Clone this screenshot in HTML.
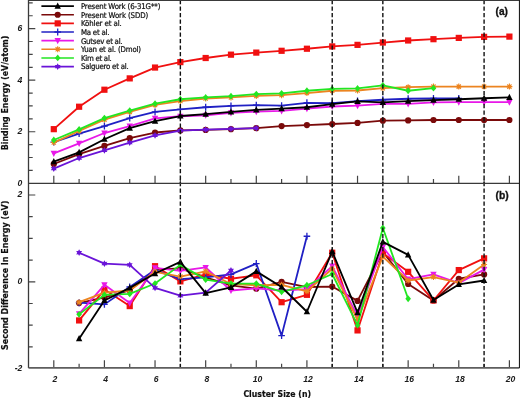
<!DOCTYPE html>
<html><head><meta charset="utf-8"><title>Binding energy plot</title>
<style>
html,body{margin:0;padding:0;background:#fff;}
body{width:520px;height:399px;overflow:hidden;}
svg{display:block;font-family:"DejaVu Sans","Liberation Sans",sans-serif;}
.tl{font-size:8.6px;font-style:italic;font-weight:bold;fill:#1a1a1a;font-family:"Liberation Sans",sans-serif;}
.pl{font-size:11.5px;font-weight:bold;fill:#111;stroke:#111;stroke-width:0.35px;font-family:"Liberation Sans",sans-serif;}
.lg{font-family:"DejaVu Sans Condensed","DejaVu Sans",sans-serif;font-stretch:condensed;font-size:7.8px;fill:#111;stroke:#111;stroke-width:0.22px;}
.at{font-size:9.3px;font-weight:bold;fill:#111;stroke:#111;stroke-width:0.2px;}
</style></head><body>
<svg width="520" height="399" viewBox="0 0 520 399">
<rect width="520" height="399" fill="#fff"/>
<path d="M28.5 170.41h4.2M28.5 157.52h4.2M28.5 144.63h4.2M28.5 131.74h6.8M28.5 118.85h4.2M28.5 105.96h4.2M28.5 93.07h4.2M28.5 80.18h6.8M28.5 67.29h4.2M28.5 54.4h4.2M28.5 41.51h4.2M28.5 28.62h6.8M28.5 15.73h4.2M28.5 2.84h4.2M28.5 346.9h4.2M28.5 325.2h4.2M28.5 303.5h4.2M28.5 281.8h6.8M28.5 260.1h4.2M28.5 238.4h4.2M28.5 216.7h4.2M28.5 195h6.8M53.8 183.3v-7.6M53.8 367.9v-7.6M79.11 183.3v-4.2M79.11 367.9v-4.2M104.42 183.3v-7.6M104.42 367.9v-7.6M129.73 183.3v-4.2M129.73 367.9v-4.2M155.04 183.3v-7.6M155.04 367.9v-7.6M180.36 183.3v-4.2M180.36 367.9v-4.2M205.67 183.3v-7.6M205.67 367.9v-7.6M230.98 183.3v-4.2M230.98 367.9v-4.2M256.29 183.3v-7.6M256.29 367.9v-7.6M281.6 183.3v-4.2M281.6 367.9v-4.2M306.91 183.3v-7.6M306.91 367.9v-7.6M332.22 183.3v-4.2M332.22 367.9v-4.2M357.53 183.3v-7.6M357.53 367.9v-7.6M382.84 183.3v-4.2M382.84 367.9v-4.2M408.15 183.3v-7.6M408.15 367.9v-7.6M433.47 183.3v-4.2M433.47 367.9v-4.2M458.78 183.3v-7.6M458.78 367.9v-7.6M484.09 183.3v-4.2M484.09 367.9v-4.2M509.4 183.3v-7.6M509.4 367.9v-7.6" stroke="#444" stroke-width="1.2" fill="none"/>
<polyline points="53.8,163.97 79.11,154.17 104.42,145.92 129.73,138.19 155.04,132.51 180.36,130.45 205.67,129.94 230.98,129.16 256.29,128.13 281.6,126.07 306.91,125.04 332.22,124.01 357.53,122.97 382.84,120.65 408.15,120.4 433.47,120.01 458.78,120.01 484.09,120.01 509.4,120.01" fill="none" stroke="#7a0a0a" stroke-width="1.8" stroke-linejoin="round"/>
<circle cx="53.8" cy="163.97" r="3.1" fill="#7a0a0a"/>
<circle cx="79.11" cy="154.17" r="3.1" fill="#7a0a0a"/>
<circle cx="104.42" cy="145.92" r="3.1" fill="#7a0a0a"/>
<circle cx="129.73" cy="138.19" r="3.1" fill="#7a0a0a"/>
<circle cx="155.04" cy="132.51" r="3.1" fill="#7a0a0a"/>
<circle cx="180.36" cy="130.45" r="3.1" fill="#7a0a0a"/>
<circle cx="205.67" cy="129.94" r="3.1" fill="#7a0a0a"/>
<circle cx="230.98" cy="129.16" r="3.1" fill="#7a0a0a"/>
<circle cx="256.29" cy="128.13" r="3.1" fill="#7a0a0a"/>
<circle cx="281.6" cy="126.07" r="3.1" fill="#7a0a0a"/>
<circle cx="306.91" cy="125.04" r="3.1" fill="#7a0a0a"/>
<circle cx="332.22" cy="124.01" r="3.1" fill="#7a0a0a"/>
<circle cx="357.53" cy="122.97" r="3.1" fill="#7a0a0a"/>
<circle cx="382.84" cy="120.65" r="3.1" fill="#7a0a0a"/>
<circle cx="408.15" cy="120.4" r="3.1" fill="#7a0a0a"/>
<circle cx="433.47" cy="120.01" r="3.1" fill="#7a0a0a"/>
<circle cx="458.78" cy="120.01" r="3.1" fill="#7a0a0a"/>
<circle cx="484.09" cy="120.01" r="3.1" fill="#7a0a0a"/>
<circle cx="509.4" cy="120.01" r="3.1" fill="#7a0a0a"/>
<polyline points="53.8,129.16 79.11,106.73 104.42,89.72 129.73,78.38 155.04,67.55 180.36,62.13 205.67,58.01 230.98,54.66 256.29,52.6 281.6,50.79 306.91,48.73 332.22,46.41 357.53,44.86 382.84,42.54 408.15,40.48 433.47,39.19 458.78,37.9 484.09,36.87 509.4,36.61" fill="none" stroke="#f01010" stroke-width="1.8" stroke-linejoin="round"/>
<rect x="50.7" y="126.06" width="6.2" height="6.2" fill="#f01010"/>
<rect x="76.01" y="103.63" width="6.2" height="6.2" fill="#f01010"/>
<rect x="101.32" y="86.62" width="6.2" height="6.2" fill="#f01010"/>
<rect x="126.63" y="75.28" width="6.2" height="6.2" fill="#f01010"/>
<rect x="151.94" y="64.45" width="6.2" height="6.2" fill="#f01010"/>
<rect x="177.26" y="59.03" width="6.2" height="6.2" fill="#f01010"/>
<rect x="202.57" y="54.91" width="6.2" height="6.2" fill="#f01010"/>
<rect x="227.88" y="51.56" width="6.2" height="6.2" fill="#f01010"/>
<rect x="253.19" y="49.5" width="6.2" height="6.2" fill="#f01010"/>
<rect x="278.5" y="47.69" width="6.2" height="6.2" fill="#f01010"/>
<rect x="303.81" y="45.63" width="6.2" height="6.2" fill="#f01010"/>
<rect x="329.12" y="43.31" width="6.2" height="6.2" fill="#f01010"/>
<rect x="354.43" y="41.76" width="6.2" height="6.2" fill="#f01010"/>
<rect x="379.74" y="39.44" width="6.2" height="6.2" fill="#f01010"/>
<rect x="405.05" y="37.38" width="6.2" height="6.2" fill="#f01010"/>
<rect x="430.37" y="36.09" width="6.2" height="6.2" fill="#f01010"/>
<rect x="455.68" y="34.8" width="6.2" height="6.2" fill="#f01010"/>
<rect x="480.99" y="33.77" width="6.2" height="6.2" fill="#f01010"/>
<rect x="506.3" y="33.51" width="6.2" height="6.2" fill="#f01010"/>
<polyline points="53.8,142.05 79.11,133.54 104.42,126.07 129.73,118.08 155.04,111.89 180.36,109.31 205.67,107.25 230.98,105.96 256.29,105.19 281.6,105.7 306.91,102.87 332.22,103.12 357.53,101.06 382.84,99.77 408.15,98.74 433.47,98.48 458.78,98.48" fill="none" stroke="#2020c4" stroke-width="1.8" stroke-linejoin="round"/>
<path d="M50.5 142.05H57.1M53.8 138.55V145.55" stroke="#2020c4" stroke-width="1.3" fill="none"/>
<path d="M75.81 133.54H82.41M79.11 130.04V137.04" stroke="#2020c4" stroke-width="1.3" fill="none"/>
<path d="M101.12 126.07H107.72M104.42 122.57V129.57" stroke="#2020c4" stroke-width="1.3" fill="none"/>
<path d="M126.43 118.08H133.03M129.73 114.58V121.58" stroke="#2020c4" stroke-width="1.3" fill="none"/>
<path d="M151.74 111.89H158.34M155.04 108.39V115.39" stroke="#2020c4" stroke-width="1.3" fill="none"/>
<path d="M177.06 109.31H183.66M180.36 105.81V112.81" stroke="#2020c4" stroke-width="1.3" fill="none"/>
<path d="M202.37 107.25H208.97M205.67 103.75V110.75" stroke="#2020c4" stroke-width="1.3" fill="none"/>
<path d="M227.68 105.96H234.28M230.98 102.46V109.46" stroke="#2020c4" stroke-width="1.3" fill="none"/>
<path d="M252.99 105.19H259.59M256.29 101.69V108.69" stroke="#2020c4" stroke-width="1.3" fill="none"/>
<path d="M278.3 105.7H284.9M281.6 102.2V109.2" stroke="#2020c4" stroke-width="1.3" fill="none"/>
<path d="M303.61 102.87H310.21M306.91 99.37V106.37" stroke="#2020c4" stroke-width="1.3" fill="none"/>
<path d="M328.92 103.12H335.52M332.22 99.62V106.62" stroke="#2020c4" stroke-width="1.3" fill="none"/>
<path d="M354.23 101.06H360.83M357.53 97.56V104.56" stroke="#2020c4" stroke-width="1.3" fill="none"/>
<path d="M379.54 99.77H386.14M382.84 96.27V103.27" stroke="#2020c4" stroke-width="1.3" fill="none"/>
<path d="M404.85 98.74H411.45M408.15 95.24V102.24" stroke="#2020c4" stroke-width="1.3" fill="none"/>
<path d="M430.17 98.48H436.77M433.47 94.98V101.98" stroke="#2020c4" stroke-width="1.3" fill="none"/>
<path d="M455.48 98.48H462.08M458.78 94.98V101.98" stroke="#2020c4" stroke-width="1.3" fill="none"/>
<polyline points="53.8,153.4 79.11,143.34 104.42,133.03 129.73,126.07 155.04,118.33 180.36,116.27 205.67,115.24 230.98,112.92 256.29,111.63 281.6,110.86 306.91,108.54 332.22,106.48 357.53,105.7 382.84,103.9 408.15,103.9 433.47,102.35 458.78,102.09 484.09,102.09 509.4,102.09" fill="none" stroke="#e818e8" stroke-width="1.8" stroke-linejoin="round"/>
<path d="M50.6 150.8L57 150.8L53.8 157Z" fill="#e818e8"/>
<path d="M75.91 140.74L82.31 140.74L79.11 146.94Z" fill="#e818e8"/>
<path d="M101.22 130.43L107.62 130.43L104.42 136.63Z" fill="#e818e8"/>
<path d="M126.53 123.47L132.93 123.47L129.73 129.67Z" fill="#e818e8"/>
<path d="M151.84 115.73L158.24 115.73L155.04 121.93Z" fill="#e818e8"/>
<path d="M177.16 113.67L183.56 113.67L180.36 119.87Z" fill="#e818e8"/>
<path d="M202.47 112.64L208.87 112.64L205.67 118.84Z" fill="#e818e8"/>
<path d="M227.78 110.32L234.18 110.32L230.98 116.52Z" fill="#e818e8"/>
<path d="M253.09 109.03L259.49 109.03L256.29 115.23Z" fill="#e818e8"/>
<path d="M278.4 108.26L284.8 108.26L281.6 114.46Z" fill="#e818e8"/>
<path d="M303.71 105.94L310.11 105.94L306.91 112.14Z" fill="#e818e8"/>
<path d="M329.02 103.88L335.42 103.88L332.22 110.08Z" fill="#e818e8"/>
<path d="M354.33 103.1L360.73 103.1L357.53 109.3Z" fill="#e818e8"/>
<path d="M379.64 101.3L386.04 101.3L382.84 107.5Z" fill="#e818e8"/>
<path d="M404.95 101.3L411.35 101.3L408.15 107.5Z" fill="#e818e8"/>
<path d="M430.27 99.75L436.67 99.75L433.47 105.95Z" fill="#e818e8"/>
<path d="M455.58 99.49L461.98 99.49L458.78 105.69Z" fill="#e818e8"/>
<path d="M480.89 99.49L487.29 99.49L484.09 105.69Z" fill="#e818e8"/>
<path d="M506.2 99.49L512.6 99.49L509.4 105.69Z" fill="#e818e8"/>
<polyline points="53.8,142.57 79.11,130.97 104.42,119.62 129.73,111.89 155.04,104.93 180.36,101.06 205.67,98.48 230.98,97.45 256.29,95.91 281.6,95.13 306.91,93.07 332.22,90.75 357.53,90.49 382.84,88.17 408.15,87.14 433.47,86.62 458.78,86.62 484.09,86.62 509.4,86.62" fill="none" stroke="#ec8420" stroke-width="1.8" stroke-linejoin="round"/>
<path d="M50.8 142.57L56.8 142.57M51.68 140.45L55.92 144.69M53.8 139.57L53.8 145.57M55.92 140.45L51.68 144.69" stroke="#ec8420" stroke-width="1.1" fill="none"/><circle cx="53.8" cy="142.57" r="1.8" fill="#ec8420"/>
<path d="M76.11 130.97L82.11 130.97M76.99 128.85L81.23 133.09M79.11 127.97L79.11 133.97M81.23 128.85L76.99 133.09" stroke="#ec8420" stroke-width="1.1" fill="none"/><circle cx="79.11" cy="130.97" r="1.8" fill="#ec8420"/>
<path d="M101.42 119.62L107.42 119.62M102.3 117.5L106.54 121.74M104.42 116.62L104.42 122.62M106.54 117.5L102.3 121.74" stroke="#ec8420" stroke-width="1.1" fill="none"/><circle cx="104.42" cy="119.62" r="1.8" fill="#ec8420"/>
<path d="M126.73 111.89L132.73 111.89M127.61 109.77L131.85 114.01M129.73 108.89L129.73 114.89M131.85 109.77L127.61 114.01" stroke="#ec8420" stroke-width="1.1" fill="none"/><circle cx="129.73" cy="111.89" r="1.8" fill="#ec8420"/>
<path d="M152.04 104.93L158.04 104.93M152.92 102.81L157.17 107.05M155.04 101.93L155.04 107.93M157.17 102.81L152.92 107.05" stroke="#ec8420" stroke-width="1.1" fill="none"/><circle cx="155.04" cy="104.93" r="1.8" fill="#ec8420"/>
<path d="M177.36 101.06L183.36 101.06M178.23 98.94L182.48 103.18M180.36 98.06L180.36 104.06M182.48 98.94L178.23 103.18" stroke="#ec8420" stroke-width="1.1" fill="none"/><circle cx="180.36" cy="101.06" r="1.8" fill="#ec8420"/>
<path d="M202.67 98.48L208.67 98.48M203.54 96.36L207.79 100.61M205.67 95.48L205.67 101.48M207.79 96.36L203.54 100.61" stroke="#ec8420" stroke-width="1.1" fill="none"/><circle cx="205.67" cy="98.48" r="1.8" fill="#ec8420"/>
<path d="M227.98 97.45L233.98 97.45M228.86 95.33L233.1 99.57M230.98 94.45L230.98 100.45M233.1 95.33L228.86 99.57" stroke="#ec8420" stroke-width="1.1" fill="none"/><circle cx="230.98" cy="97.45" r="1.8" fill="#ec8420"/>
<path d="M253.29 95.91L259.29 95.91M254.17 93.78L258.41 98.03M256.29 92.91L256.29 98.91M258.41 93.78L254.17 98.03" stroke="#ec8420" stroke-width="1.1" fill="none"/><circle cx="256.29" cy="95.91" r="1.8" fill="#ec8420"/>
<path d="M278.6 95.13L284.6 95.13M279.48 93.01L283.72 97.25M281.6 92.13L281.6 98.13M283.72 93.01L279.48 97.25" stroke="#ec8420" stroke-width="1.1" fill="none"/><circle cx="281.6" cy="95.13" r="1.8" fill="#ec8420"/>
<path d="M303.91 93.07L309.91 93.07M304.79 90.95L309.03 95.19M306.91 90.07L306.91 96.07M309.03 90.95L304.79 95.19" stroke="#ec8420" stroke-width="1.1" fill="none"/><circle cx="306.91" cy="93.07" r="1.8" fill="#ec8420"/>
<path d="M329.22 90.75L335.22 90.75M330.1 88.63L334.34 92.87M332.22 87.75L332.22 93.75M334.34 88.63L330.1 92.87" stroke="#ec8420" stroke-width="1.1" fill="none"/><circle cx="332.22" cy="90.75" r="1.8" fill="#ec8420"/>
<path d="M354.53 90.49L360.53 90.49M355.41 88.37L359.65 92.61M357.53 87.49L357.53 93.49M359.65 88.37L355.41 92.61" stroke="#ec8420" stroke-width="1.1" fill="none"/><circle cx="357.53" cy="90.49" r="1.8" fill="#ec8420"/>
<path d="M379.84 88.17L385.84 88.17M380.72 86.05L384.96 90.29M382.84 85.17L382.84 91.17M384.96 86.05L380.72 90.29" stroke="#ec8420" stroke-width="1.1" fill="none"/><circle cx="382.84" cy="88.17" r="1.8" fill="#ec8420"/>
<path d="M405.15 87.14L411.15 87.14M406.03 85.02L410.28 89.26M408.15 84.14L408.15 90.14M410.28 85.02L406.03 89.26" stroke="#ec8420" stroke-width="1.1" fill="none"/><circle cx="408.15" cy="87.14" r="1.8" fill="#ec8420"/>
<path d="M430.47 86.62L436.47 86.62M431.34 84.5L435.59 88.75M433.47 83.62L433.47 89.62M435.59 84.5L431.34 88.75" stroke="#ec8420" stroke-width="1.1" fill="none"/><circle cx="433.47" cy="86.62" r="1.8" fill="#ec8420"/>
<path d="M455.78 86.62L461.78 86.62M456.65 84.5L460.9 88.75M458.78 83.62L458.78 89.62M460.9 84.5L456.65 88.75" stroke="#ec8420" stroke-width="1.1" fill="none"/><circle cx="458.78" cy="86.62" r="1.8" fill="#ec8420"/>
<path d="M481.09 86.62L487.09 86.62M481.97 84.5L486.21 88.75M484.09 83.62L484.09 89.62M486.21 84.5L481.97 88.75" stroke="#ec8420" stroke-width="1.1" fill="none"/><circle cx="484.09" cy="86.62" r="1.8" fill="#ec8420"/>
<path d="M506.4 86.62L512.4 86.62M507.28 84.5L511.52 88.75M509.4 83.62L509.4 89.62M511.52 84.5L507.28 88.75" stroke="#ec8420" stroke-width="1.1" fill="none"/><circle cx="509.4" cy="86.62" r="1.8" fill="#ec8420"/>
<polyline points="53.8,139.99 79.11,129.42 104.42,118.08 129.73,110.6 155.04,103.64 180.36,99.26 205.67,97.45 230.98,96.16 256.29,94.1 281.6,93.33 306.91,90.75 332.22,88.95 357.53,88.43 382.84,85.34 408.15,90.75 433.47,88.17" fill="none" stroke="#22e622" stroke-width="1.8" stroke-linejoin="round"/>
<path d="M53.8 136.59L56.6 139.99L53.8 143.39L51 139.99Z" fill="#22e622"/>
<path d="M79.11 126.02L81.91 129.42L79.11 132.82L76.31 129.42Z" fill="#22e622"/>
<path d="M104.42 114.68L107.22 118.08L104.42 121.48L101.62 118.08Z" fill="#22e622"/>
<path d="M129.73 107.2L132.53 110.6L129.73 114L126.93 110.6Z" fill="#22e622"/>
<path d="M155.04 100.24L157.84 103.64L155.04 107.04L152.24 103.64Z" fill="#22e622"/>
<path d="M180.36 95.86L183.16 99.26L180.36 102.66L177.56 99.26Z" fill="#22e622"/>
<path d="M205.67 94.05L208.47 97.45L205.67 100.85L202.87 97.45Z" fill="#22e622"/>
<path d="M230.98 92.76L233.78 96.16L230.98 99.56L228.18 96.16Z" fill="#22e622"/>
<path d="M256.29 90.7L259.09 94.1L256.29 97.5L253.49 94.1Z" fill="#22e622"/>
<path d="M281.6 89.93L284.4 93.33L281.6 96.73L278.8 93.33Z" fill="#22e622"/>
<path d="M306.91 87.35L309.71 90.75L306.91 94.15L304.11 90.75Z" fill="#22e622"/>
<path d="M332.22 85.55L335.02 88.95L332.22 92.35L329.42 88.95Z" fill="#22e622"/>
<path d="M357.53 85.03L360.33 88.43L357.53 91.83L354.73 88.43Z" fill="#22e622"/>
<path d="M382.84 81.94L385.64 85.34L382.84 88.74L380.04 85.34Z" fill="#22e622"/>
<path d="M408.15 87.35L410.95 90.75L408.15 94.15L405.35 90.75Z" fill="#22e622"/>
<path d="M433.47 84.77L436.27 88.17L433.47 91.57L430.67 88.17Z" fill="#22e622"/>
<polyline points="53.8,168.61 79.11,158.04 104.42,150.3 129.73,142.57 155.04,135.35 180.36,130.71 205.67,129.68 230.98,128.9 256.29,128.13" fill="none" stroke="#6a14d8" stroke-width="1.8" stroke-linejoin="round"/>
<path d="M53.8 165.21L54.75 166.96L56.74 166.91L55.7 168.61L56.74 170.31L54.75 170.25L53.8 172.01L52.85 170.25L50.86 170.31L51.9 168.61L50.86 166.91L52.85 166.96Z" fill="#6a14d8"/>
<path d="M79.11 154.64L80.06 156.39L82.06 156.34L81.01 158.04L82.06 159.74L80.06 159.68L79.11 161.44L78.16 159.68L76.17 159.74L77.21 158.04L76.17 156.34L78.16 156.39Z" fill="#6a14d8"/>
<path d="M104.42 146.9L105.37 148.66L107.37 148.6L106.32 150.3L107.37 152L105.37 151.95L104.42 153.7L103.47 151.95L101.48 152L102.52 150.3L101.48 148.6L103.47 148.66Z" fill="#6a14d8"/>
<path d="M129.73 139.17L130.68 140.92L132.68 140.87L131.63 142.57L132.68 144.27L130.68 144.21L129.73 145.97L128.78 144.21L126.79 144.27L127.83 142.57L126.79 140.87L128.78 140.92Z" fill="#6a14d8"/>
<path d="M155.04 131.95L155.99 133.7L157.99 133.65L156.94 135.35L157.99 137.05L155.99 136.99L155.04 138.75L154.09 136.99L152.1 137.05L153.14 135.35L152.1 133.65L154.09 133.7Z" fill="#6a14d8"/>
<path d="M180.36 127.31L181.31 129.06L183.3 129.01L182.26 130.71L183.3 132.41L181.31 132.35L180.36 134.11L179.41 132.35L177.41 132.41L178.46 130.71L177.41 129.01L179.41 129.06Z" fill="#6a14d8"/>
<path d="M205.67 126.28L206.62 128.03L208.61 127.98L207.57 129.68L208.61 131.38L206.62 131.32L205.67 133.08L204.72 131.32L202.72 131.38L203.77 129.68L202.72 127.98L204.72 128.03Z" fill="#6a14d8"/>
<path d="M230.98 125.5L231.93 127.26L233.92 127.2L232.88 128.9L233.92 130.6L231.93 130.55L230.98 132.3L230.03 130.55L228.03 130.6L229.08 128.9L228.03 127.2L230.03 127.26Z" fill="#6a14d8"/>
<path d="M256.29 124.73L257.24 126.49L259.23 126.43L258.19 128.13L259.23 129.83L257.24 129.78L256.29 131.53L255.34 129.78L253.34 129.83L254.39 128.13L253.34 126.43L255.34 126.49Z" fill="#6a14d8"/>
<polyline points="53.8,161.64 79.11,152.36 104.42,139.22 129.73,128.13 155.04,121.17 180.36,116.01 205.67,114.21 230.98,111.89 256.29,109.83 281.6,108.54 306.91,107.25 332.22,104.16 357.53,101.32 382.84,102.35 408.15,101.06 433.47,100.03 458.78,99.26 484.09,98.23 509.4,97.45" fill="none" stroke="#000000" stroke-width="1.8" stroke-linejoin="round"/>
<path d="M53.8 158.04L57 164.24L50.6 164.24Z" fill="#000000"/>
<path d="M79.11 148.76L82.31 154.96L75.91 154.96Z" fill="#000000"/>
<path d="M104.42 135.62L107.62 141.82L101.22 141.82Z" fill="#000000"/>
<path d="M129.73 124.53L132.93 130.73L126.53 130.73Z" fill="#000000"/>
<path d="M155.04 117.57L158.24 123.77L151.84 123.77Z" fill="#000000"/>
<path d="M180.36 112.41L183.56 118.61L177.16 118.61Z" fill="#000000"/>
<path d="M205.67 110.61L208.87 116.81L202.47 116.81Z" fill="#000000"/>
<path d="M230.98 108.29L234.18 114.49L227.78 114.49Z" fill="#000000"/>
<path d="M256.29 106.23L259.49 112.43L253.09 112.43Z" fill="#000000"/>
<path d="M281.6 104.94L284.8 111.14L278.4 111.14Z" fill="#000000"/>
<path d="M306.91 103.65L310.11 109.85L303.71 109.85Z" fill="#000000"/>
<path d="M332.22 100.56L335.42 106.76L329.02 106.76Z" fill="#000000"/>
<path d="M357.53 97.72L360.73 103.92L354.33 103.92Z" fill="#000000"/>
<path d="M382.84 98.75L386.04 104.95L379.64 104.95Z" fill="#000000"/>
<path d="M408.15 97.46L411.35 103.66L404.95 103.66Z" fill="#000000"/>
<path d="M433.47 96.43L436.67 102.63L430.27 102.63Z" fill="#000000"/>
<path d="M458.78 95.66L461.98 101.86L455.58 101.86Z" fill="#000000"/>
<path d="M484.09 94.63L487.29 100.83L480.89 100.83Z" fill="#000000"/>
<path d="M509.4 93.85L512.6 100.05L506.2 100.05Z" fill="#000000"/>
<polyline points="79.11,303.07 104.42,297.42 129.73,290.48 155.04,269.65 180.36,268.35 205.67,277.46 230.98,285.27 256.29,288.74 281.6,281.8 306.91,287.01 332.22,286.57 357.53,300.9 382.84,251.85 408.15,283.97 433.47,300.46 458.78,278.76 484.09,274.42" fill="none" stroke="#7a0a0a" stroke-width="1.8" stroke-linejoin="round"/>
<circle cx="79.11" cy="303.07" r="3.1" fill="#7a0a0a"/>
<circle cx="104.42" cy="297.42" r="3.1" fill="#7a0a0a"/>
<circle cx="129.73" cy="290.48" r="3.1" fill="#7a0a0a"/>
<circle cx="155.04" cy="269.65" r="3.1" fill="#7a0a0a"/>
<circle cx="180.36" cy="268.35" r="3.1" fill="#7a0a0a"/>
<circle cx="205.67" cy="277.46" r="3.1" fill="#7a0a0a"/>
<circle cx="230.98" cy="285.27" r="3.1" fill="#7a0a0a"/>
<circle cx="256.29" cy="288.74" r="3.1" fill="#7a0a0a"/>
<circle cx="281.6" cy="281.8" r="3.1" fill="#7a0a0a"/>
<circle cx="306.91" cy="287.01" r="3.1" fill="#7a0a0a"/>
<circle cx="332.22" cy="286.57" r="3.1" fill="#7a0a0a"/>
<circle cx="357.53" cy="300.9" r="3.1" fill="#7a0a0a"/>
<circle cx="382.84" cy="251.85" r="3.1" fill="#7a0a0a"/>
<circle cx="408.15" cy="283.97" r="3.1" fill="#7a0a0a"/>
<circle cx="433.47" cy="300.46" r="3.1" fill="#7a0a0a"/>
<circle cx="458.78" cy="278.76" r="3.1" fill="#7a0a0a"/>
<circle cx="484.09" cy="274.42" r="3.1" fill="#7a0a0a"/>
<polyline points="79.11,320.43 104.42,289.61 129.73,306.1 155.04,266.18 180.36,281.37 205.67,274.42 230.98,278.76 256.29,275.29 281.6,302.2 306.91,294.82 332.22,252.72 357.53,330.41 382.84,253.16 408.15,271.82 433.47,300.46 458.78,270.08 484.09,258.36" fill="none" stroke="#f01010" stroke-width="1.8" stroke-linejoin="round"/>
<rect x="76.01" y="317.33" width="6.2" height="6.2" fill="#f01010"/>
<rect x="101.32" y="286.51" width="6.2" height="6.2" fill="#f01010"/>
<rect x="126.63" y="303" width="6.2" height="6.2" fill="#f01010"/>
<rect x="151.94" y="263.08" width="6.2" height="6.2" fill="#f01010"/>
<rect x="177.26" y="278.27" width="6.2" height="6.2" fill="#f01010"/>
<rect x="202.57" y="271.32" width="6.2" height="6.2" fill="#f01010"/>
<rect x="227.88" y="275.66" width="6.2" height="6.2" fill="#f01010"/>
<rect x="253.19" y="272.19" width="6.2" height="6.2" fill="#f01010"/>
<rect x="278.5" y="299.1" width="6.2" height="6.2" fill="#f01010"/>
<rect x="303.81" y="291.72" width="6.2" height="6.2" fill="#f01010"/>
<rect x="329.12" y="249.62" width="6.2" height="6.2" fill="#f01010"/>
<rect x="354.43" y="327.31" width="6.2" height="6.2" fill="#f01010"/>
<rect x="379.74" y="250.06" width="6.2" height="6.2" fill="#f01010"/>
<rect x="405.05" y="268.72" width="6.2" height="6.2" fill="#f01010"/>
<rect x="430.37" y="297.36" width="6.2" height="6.2" fill="#f01010"/>
<rect x="455.68" y="266.98" width="6.2" height="6.2" fill="#f01010"/>
<rect x="480.99" y="255.26" width="6.2" height="6.2" fill="#f01010"/>
<polyline points="79.11,302.63 104.42,304.37 129.73,287.01 155.04,270.08 180.36,279.2 205.67,277.46 230.98,274.42 256.29,263.57 281.6,335.62 306.91,236.23" fill="none" stroke="#2020c4" stroke-width="1.8" stroke-linejoin="round"/>
<path d="M75.81 302.63H82.41M79.11 299.13V306.13" stroke="#2020c4" stroke-width="1.3" fill="none"/>
<path d="M101.12 304.37H107.72M104.42 300.87V307.87" stroke="#2020c4" stroke-width="1.3" fill="none"/>
<path d="M126.43 287.01H133.03M129.73 283.51V290.51" stroke="#2020c4" stroke-width="1.3" fill="none"/>
<path d="M151.74 270.08H158.34M155.04 266.58V273.58" stroke="#2020c4" stroke-width="1.3" fill="none"/>
<path d="M177.06 279.2H183.66M180.36 275.7V282.7" stroke="#2020c4" stroke-width="1.3" fill="none"/>
<path d="M202.37 277.46H208.97M205.67 273.96V280.96" stroke="#2020c4" stroke-width="1.3" fill="none"/>
<path d="M227.68 274.42H234.28M230.98 270.92V277.92" stroke="#2020c4" stroke-width="1.3" fill="none"/>
<path d="M252.99 263.57H259.59M256.29 260.07V267.07" stroke="#2020c4" stroke-width="1.3" fill="none"/>
<path d="M278.3 335.62H284.9M281.6 332.12V339.12" stroke="#2020c4" stroke-width="1.3" fill="none"/>
<path d="M303.61 236.23H310.21M306.91 232.73V239.73" stroke="#2020c4" stroke-width="1.3" fill="none"/>
<polyline points="79.11,313.92 104.42,284.84 129.73,303.07 155.04,267.91 180.36,270.95 205.67,267.48 230.98,290.48 256.29,288.31 281.6,290.48 306.91,289.18 332.22,266.18 357.53,316.09 382.84,247.08 408.15,279.2 433.47,274.42 458.78,283.1 484.09,269.65" fill="none" stroke="#e818e8" stroke-width="1.8" stroke-linejoin="round"/>
<path d="M75.91 311.32L82.31 311.32L79.11 317.52Z" fill="#e818e8"/>
<path d="M101.22 282.24L107.62 282.24L104.42 288.44Z" fill="#e818e8"/>
<path d="M126.53 300.47L132.93 300.47L129.73 306.67Z" fill="#e818e8"/>
<path d="M151.84 265.31L158.24 265.31L155.04 271.51Z" fill="#e818e8"/>
<path d="M177.16 268.35L183.56 268.35L180.36 274.55Z" fill="#e818e8"/>
<path d="M202.47 264.88L208.87 264.88L205.67 271.08Z" fill="#e818e8"/>
<path d="M227.78 287.88L234.18 287.88L230.98 294.08Z" fill="#e818e8"/>
<path d="M253.09 285.71L259.49 285.71L256.29 291.91Z" fill="#e818e8"/>
<path d="M278.4 287.88L284.8 287.88L281.6 294.08Z" fill="#e818e8"/>
<path d="M303.71 286.58L310.11 286.58L306.91 292.78Z" fill="#e818e8"/>
<path d="M329.02 263.58L335.42 263.58L332.22 269.78Z" fill="#e818e8"/>
<path d="M354.33 313.49L360.73 313.49L357.53 319.69Z" fill="#e818e8"/>
<path d="M379.64 244.48L386.04 244.48L382.84 250.68Z" fill="#e818e8"/>
<path d="M404.95 276.6L411.35 276.6L408.15 282.8Z" fill="#e818e8"/>
<path d="M430.27 271.82L436.67 271.82L433.47 278.02Z" fill="#e818e8"/>
<path d="M455.58 280.5L461.98 280.5L458.78 286.7Z" fill="#e818e8"/>
<path d="M480.89 267.05L487.29 267.05L484.09 273.25Z" fill="#e818e8"/>
<polyline points="79.11,302.2 104.42,292.65 129.73,290.48 155.04,271.82 180.36,276.59 205.67,271.38 230.98,283.97 256.29,285.27 281.6,284.84 306.91,291.35 332.22,268.78 357.53,319.56 382.84,256.63 408.15,280.5 433.47,277.03 458.78,282.67 484.09,264.44" fill="none" stroke="#ec8420" stroke-width="1.8" stroke-linejoin="round"/>
<path d="M76.11 302.2L82.11 302.2M76.99 300.08L81.23 304.32M79.11 299.2L79.11 305.2M81.23 300.08L76.99 304.32" stroke="#ec8420" stroke-width="1.1" fill="none"/><circle cx="79.11" cy="302.2" r="1.8" fill="#ec8420"/>
<path d="M101.42 292.65L107.42 292.65M102.3 290.53L106.54 294.77M104.42 289.65L104.42 295.65M106.54 290.53L102.3 294.77" stroke="#ec8420" stroke-width="1.1" fill="none"/><circle cx="104.42" cy="292.65" r="1.8" fill="#ec8420"/>
<path d="M126.73 290.48L132.73 290.48M127.61 288.36L131.85 292.6M129.73 287.48L129.73 293.48M131.85 288.36L127.61 292.6" stroke="#ec8420" stroke-width="1.1" fill="none"/><circle cx="129.73" cy="290.48" r="1.8" fill="#ec8420"/>
<path d="M152.04 271.82L158.04 271.82M152.92 269.7L157.17 273.94M155.04 268.82L155.04 274.82M157.17 269.7L152.92 273.94" stroke="#ec8420" stroke-width="1.1" fill="none"/><circle cx="155.04" cy="271.82" r="1.8" fill="#ec8420"/>
<path d="M177.36 276.59L183.36 276.59M178.23 274.47L182.48 278.71M180.36 273.59L180.36 279.59M182.48 274.47L178.23 278.71" stroke="#ec8420" stroke-width="1.1" fill="none"/><circle cx="180.36" cy="276.59" r="1.8" fill="#ec8420"/>
<path d="M202.67 271.38L208.67 271.38M203.54 269.26L207.79 273.51M205.67 268.38L205.67 274.38M207.79 269.26L203.54 273.51" stroke="#ec8420" stroke-width="1.1" fill="none"/><circle cx="205.67" cy="271.38" r="1.8" fill="#ec8420"/>
<path d="M227.98 283.97L233.98 283.97M228.86 281.85L233.1 286.09M230.98 280.97L230.98 286.97M233.1 281.85L228.86 286.09" stroke="#ec8420" stroke-width="1.1" fill="none"/><circle cx="230.98" cy="283.97" r="1.8" fill="#ec8420"/>
<path d="M253.29 285.27L259.29 285.27M254.17 283.15L258.41 287.39M256.29 282.27L256.29 288.27M258.41 283.15L254.17 287.39" stroke="#ec8420" stroke-width="1.1" fill="none"/><circle cx="256.29" cy="285.27" r="1.8" fill="#ec8420"/>
<path d="M278.6 284.84L284.6 284.84M279.48 282.72L283.72 286.96M281.6 281.84L281.6 287.84M283.72 282.72L279.48 286.96" stroke="#ec8420" stroke-width="1.1" fill="none"/><circle cx="281.6" cy="284.84" r="1.8" fill="#ec8420"/>
<path d="M303.91 291.35L309.91 291.35M304.79 289.23L309.03 293.47M306.91 288.35L306.91 294.35M309.03 289.23L304.79 293.47" stroke="#ec8420" stroke-width="1.1" fill="none"/><circle cx="306.91" cy="291.35" r="1.8" fill="#ec8420"/>
<path d="M329.22 268.78L335.22 268.78M330.1 266.66L334.34 270.9M332.22 265.78L332.22 271.78M334.34 266.66L330.1 270.9" stroke="#ec8420" stroke-width="1.1" fill="none"/><circle cx="332.22" cy="268.78" r="1.8" fill="#ec8420"/>
<path d="M354.53 319.56L360.53 319.56M355.41 317.44L359.65 321.68M357.53 316.56L357.53 322.56M359.65 317.44L355.41 321.68" stroke="#ec8420" stroke-width="1.1" fill="none"/><circle cx="357.53" cy="319.56" r="1.8" fill="#ec8420"/>
<path d="M379.84 256.63L385.84 256.63M380.72 254.51L384.96 258.75M382.84 253.63L382.84 259.63M384.96 254.51L380.72 258.75" stroke="#ec8420" stroke-width="1.1" fill="none"/><circle cx="382.84" cy="256.63" r="1.8" fill="#ec8420"/>
<path d="M405.15 280.5L411.15 280.5M406.03 278.38L410.28 282.62M408.15 277.5L408.15 283.5M410.28 278.38L406.03 282.62" stroke="#ec8420" stroke-width="1.1" fill="none"/><circle cx="408.15" cy="280.5" r="1.8" fill="#ec8420"/>
<path d="M430.47 277.03L436.47 277.03M431.34 274.9L435.59 279.15M433.47 274.03L433.47 280.03M435.59 274.9L431.34 279.15" stroke="#ec8420" stroke-width="1.1" fill="none"/><circle cx="433.47" cy="277.03" r="1.8" fill="#ec8420"/>
<path d="M455.78 282.67L461.78 282.67M456.65 280.55L460.9 284.79M458.78 279.67L458.78 285.67M460.9 280.55L456.65 284.79" stroke="#ec8420" stroke-width="1.1" fill="none"/><circle cx="458.78" cy="282.67" r="1.8" fill="#ec8420"/>
<path d="M481.09 264.44L487.09 264.44M481.97 262.32L486.21 266.56M484.09 261.44L484.09 267.44M486.21 262.32L481.97 266.56" stroke="#ec8420" stroke-width="1.1" fill="none"/><circle cx="484.09" cy="264.44" r="1.8" fill="#ec8420"/>
<polyline points="79.11,314.35 104.42,294.82 129.73,293.95 155.04,283.54 180.36,264.87 205.67,279.63 230.98,283.54 256.29,283.54 281.6,291.78 306.91,285.27 332.22,273.99 357.53,325.2 382.84,227.98 408.15,298.73" fill="none" stroke="#22e622" stroke-width="1.8" stroke-linejoin="round"/>
<path d="M79.11 310.95L81.91 314.35L79.11 317.75L76.31 314.35Z" fill="#22e622"/>
<path d="M104.42 291.42L107.22 294.82L104.42 298.22L101.62 294.82Z" fill="#22e622"/>
<path d="M129.73 290.55L132.53 293.95L129.73 297.35L126.93 293.95Z" fill="#22e622"/>
<path d="M155.04 280.14L157.84 283.54L155.04 286.94L152.24 283.54Z" fill="#22e622"/>
<path d="M180.36 261.47L183.16 264.87L180.36 268.27L177.56 264.87Z" fill="#22e622"/>
<path d="M205.67 276.23L208.47 279.63L205.67 283.03L202.87 279.63Z" fill="#22e622"/>
<path d="M230.98 280.14L233.78 283.54L230.98 286.94L228.18 283.54Z" fill="#22e622"/>
<path d="M256.29 280.14L259.09 283.54L256.29 286.94L253.49 283.54Z" fill="#22e622"/>
<path d="M281.6 288.38L284.4 291.78L281.6 295.18L278.8 291.78Z" fill="#22e622"/>
<path d="M306.91 281.87L309.71 285.27L306.91 288.67L304.11 285.27Z" fill="#22e622"/>
<path d="M332.22 270.59L335.02 273.99L332.22 277.39L329.42 273.99Z" fill="#22e622"/>
<path d="M357.53 321.8L360.33 325.2L357.53 328.6L354.73 325.2Z" fill="#22e622"/>
<path d="M382.84 224.58L385.64 227.98L382.84 231.38L380.04 227.98Z" fill="#22e622"/>
<path d="M408.15 295.33L410.95 298.73L408.15 302.13L405.35 298.73Z" fill="#22e622"/>
<polyline points="79.11,252.72 104.42,263.57 129.73,264.87 155.04,287.88 180.36,295.69 205.67,292.65 230.98,270.52" fill="none" stroke="#6a14d8" stroke-width="1.8" stroke-linejoin="round"/>
<path d="M79.11 249.32L80.06 251.08L82.06 251.02L81.01 252.72L82.06 254.42L80.06 254.37L79.11 256.12L78.16 254.37L76.17 254.42L77.21 252.72L76.17 251.02L78.16 251.08Z" fill="#6a14d8"/>
<path d="M104.42 260.17L105.37 261.93L107.37 261.87L106.32 263.57L107.37 265.27L105.37 265.22L104.42 266.97L103.47 265.22L101.48 265.27L102.52 263.57L101.48 261.87L103.47 261.93Z" fill="#6a14d8"/>
<path d="M129.73 261.47L130.68 263.23L132.68 263.17L131.63 264.87L132.68 266.57L130.68 266.52L129.73 268.27L128.78 266.52L126.79 266.57L127.83 264.87L126.79 263.17L128.78 263.23Z" fill="#6a14d8"/>
<path d="M155.04 284.48L155.99 286.23L157.99 286.18L156.94 287.88L157.99 289.58L155.99 289.52L155.04 291.28L154.09 289.52L152.1 289.58L153.14 287.88L152.1 286.18L154.09 286.23Z" fill="#6a14d8"/>
<path d="M180.36 292.29L181.31 294.04L183.3 293.99L182.26 295.69L183.3 297.39L181.31 297.33L180.36 299.09L179.41 297.33L177.41 297.39L178.46 295.69L177.41 293.99L179.41 294.04Z" fill="#6a14d8"/>
<path d="M205.67 289.25L206.62 291L208.61 290.95L207.57 292.65L208.61 294.35L206.62 294.3L205.67 296.05L204.72 294.3L202.72 294.35L203.77 292.65L202.72 290.95L204.72 291Z" fill="#6a14d8"/>
<path d="M230.98 267.12L231.93 268.87L233.92 268.82L232.88 270.52L233.92 272.22L231.93 272.16L230.98 273.92L230.03 272.16L228.03 272.22L229.08 270.52L228.03 268.82L230.03 268.87Z" fill="#6a14d8"/>
<polyline points="79.11,338.65 104.42,300.46 129.73,287.88 155.04,273.55 180.36,261.84 205.67,293.08 230.98,287.44 256.29,271.38 281.6,287.01 306.91,311.75 332.22,251.42 357.53,312.61 382.84,241.87 408.15,254.89 433.47,300.03 458.78,284.4 484.09,280.5" fill="none" stroke="#000000" stroke-width="1.8" stroke-linejoin="round"/>
<path d="M79.11 335.05L82.31 341.25L75.91 341.25Z" fill="#000000"/>
<path d="M104.42 296.86L107.62 303.06L101.22 303.06Z" fill="#000000"/>
<path d="M129.73 284.28L132.93 290.48L126.53 290.48Z" fill="#000000"/>
<path d="M155.04 269.95L158.24 276.15L151.84 276.15Z" fill="#000000"/>
<path d="M180.36 258.24L183.56 264.44L177.16 264.44Z" fill="#000000"/>
<path d="M205.67 289.48L208.87 295.68L202.47 295.68Z" fill="#000000"/>
<path d="M230.98 283.84L234.18 290.04L227.78 290.04Z" fill="#000000"/>
<path d="M256.29 267.78L259.49 273.98L253.09 273.98Z" fill="#000000"/>
<path d="M281.6 283.41L284.8 289.61L278.4 289.61Z" fill="#000000"/>
<path d="M306.91 308.15L310.11 314.35L303.71 314.35Z" fill="#000000"/>
<path d="M332.22 247.82L335.42 254.02L329.02 254.02Z" fill="#000000"/>
<path d="M357.53 309.01L360.73 315.21L354.33 315.21Z" fill="#000000"/>
<path d="M382.84 238.27L386.04 244.47L379.64 244.47Z" fill="#000000"/>
<path d="M408.15 251.29L411.35 257.49L404.95 257.49Z" fill="#000000"/>
<path d="M433.47 296.43L436.67 302.63L430.27 302.63Z" fill="#000000"/>
<path d="M458.78 280.8L461.98 287L455.58 287Z" fill="#000000"/>
<path d="M484.09 276.9L487.29 283.1L480.89 283.1Z" fill="#000000"/>
<line x1="180.36" y1="0" x2="180.36" y2="367.9" stroke="#111" stroke-width="1.4" stroke-dasharray="4.3 2.2"/>
<line x1="332.22" y1="0" x2="332.22" y2="367.9" stroke="#111" stroke-width="1.4" stroke-dasharray="4.3 2.2"/>
<line x1="382.84" y1="0" x2="382.84" y2="367.9" stroke="#111" stroke-width="1.4" stroke-dasharray="4.3 2.2"/>
<line x1="484.09" y1="0" x2="484.09" y2="367.9" stroke="#111" stroke-width="1.4" stroke-dasharray="4.3 2.2"/>
<path d="M28.5 0.4H519.45M28.5 183.3H519.45M28.5 0V367.9" stroke="#3a3a3a" stroke-width="1.3" fill="none"/>
<path d="M28.5 367.9H519.45" stroke="#5e5e5e" stroke-width="1.9" fill="none"/>
<path d="M519.45 0V367.9" stroke="#1e1e1e" stroke-width="1.1" fill="none"/>
<line x1="41.4" y1="6.1" x2="73.9" y2="6.1" stroke="#000000" stroke-width="1.6"/>
<path d="M57.7 2.5L60.9 8.7L54.5 8.7Z" fill="#000000"/>
<text class="lg" x="80.9" y="9" textLength="79.5" lengthAdjust="spacing">Present Work (6-31G**)</text>
<line x1="41.4" y1="14.74" x2="73.9" y2="14.74" stroke="#7a0a0a" stroke-width="1.6"/>
<circle cx="57.7" cy="14.74" r="3.1" fill="#7a0a0a"/>
<text class="lg" x="80.9" y="17.64" textLength="67.4" lengthAdjust="spacing">Present Work (SDD)</text>
<line x1="41.4" y1="23.38" x2="73.9" y2="23.38" stroke="#f01010" stroke-width="1.6"/>
<rect x="54.6" y="20.28" width="6.2" height="6.2" fill="#f01010"/>
<text class="lg" x="80.9" y="26.28" textLength="40.9" lengthAdjust="spacing">Köhler et al.</text>
<line x1="41.4" y1="32.02" x2="73.9" y2="32.02" stroke="#2020c4" stroke-width="1.6"/>
<path d="M54.4 32.02H61M57.7 28.52V35.52" stroke="#2020c4" stroke-width="1.3" fill="none"/>
<text class="lg" x="80.9" y="34.92" textLength="28.6" lengthAdjust="spacing">Ma et al.</text>
<line x1="41.4" y1="40.66" x2="73.9" y2="40.66" stroke="#e818e8" stroke-width="1.6"/>
<path d="M54.5 38.06L60.9 38.06L57.7 44.26Z" fill="#e818e8"/>
<text class="lg" x="80.9" y="43.56" textLength="41.7" lengthAdjust="spacing">Gutsev et al.</text>
<line x1="41.4" y1="49.3" x2="73.9" y2="49.3" stroke="#ec8420" stroke-width="1.6"/>
<path d="M54.7 49.3L60.7 49.3M55.58 47.18L59.82 51.42M57.7 46.3L57.7 52.3M59.82 47.18L55.58 51.42" stroke="#ec8420" stroke-width="1.1" fill="none"/><circle cx="57.7" cy="49.3" r="1.8" fill="#ec8420"/>
<text class="lg" x="80.9" y="52.2" textLength="60.2" lengthAdjust="spacing">Yuan et al. (Dmol)</text>
<line x1="41.4" y1="57.94" x2="73.9" y2="57.94" stroke="#22e622" stroke-width="1.6"/>
<path d="M57.7 54.54L60.5 57.94L57.7 61.34L54.9 57.94Z" fill="#22e622"/>
<text class="lg" x="80.9" y="60.84" textLength="30.9" lengthAdjust="spacing">Kim et al.</text>
<line x1="41.4" y1="66.58" x2="73.9" y2="66.58" stroke="#6a14d8" stroke-width="1.6"/>
<path d="M57.7 63.18L58.65 64.93L60.64 64.88L59.6 66.58L60.64 68.28L58.65 68.23L57.7 69.98L56.75 68.23L54.76 68.28L55.8 66.58L54.76 64.88L56.75 64.93Z" fill="#6a14d8"/>
<text class="lg" x="80.9" y="69.48" textLength="47.9" lengthAdjust="spacing">Salguero et al.</text>
<text class="tl" x="22.4" y="185.8" text-anchor="end">0</text>
<text class="tl" x="22.4" y="134.24" text-anchor="end">2</text>
<text class="tl" x="22.4" y="82.68" text-anchor="end">4</text>
<text class="tl" x="22.4" y="31.12" text-anchor="end">6</text>
<text class="tl" x="22.4" y="197.4" text-anchor="end">2</text>
<text class="tl" x="22.4" y="284.2" text-anchor="end">0</text>
<text class="tl" x="22.4" y="370.6" text-anchor="end">-2</text>
<text class="tl" x="55" y="382.4" text-anchor="middle">2</text>
<text class="tl" x="105.62" y="382.4" text-anchor="middle">4</text>
<text class="tl" x="156.24" y="382.4" text-anchor="middle">6</text>
<text class="tl" x="206.87" y="382.4" text-anchor="middle">8</text>
<text class="tl" x="257.49" y="382.4" text-anchor="middle">10</text>
<text class="tl" x="308.11" y="382.4" text-anchor="middle">12</text>
<text class="tl" x="358.73" y="382.4" text-anchor="middle">14</text>
<text class="tl" x="409.35" y="382.4" text-anchor="middle">16</text>
<text class="tl" x="459.98" y="382.4" text-anchor="middle">18</text>
<text class="tl" x="510.6" y="382.4" text-anchor="middle">20</text>
<text class="pl" x="495.6" y="15.1" textLength="12.3" lengthAdjust="spacingAndGlyphs">(a)</text>
<text class="pl" x="495.6" y="199.3" textLength="13.2" lengthAdjust="spacingAndGlyphs">(b)</text>
<text class="at" x="277.2" y="397" text-anchor="middle" textLength="67.6" lengthAdjust="spacingAndGlyphs">Cluster Size (n)</text>
<text class="at" transform="translate(8.4 92.9) rotate(-90)" text-anchor="middle" textLength="114.6" lengthAdjust="spacingAndGlyphs">Binding Energy (eV/atom)</text>
<text class="at" transform="translate(8.4 275.3) rotate(-90)" text-anchor="middle" textLength="149.4" lengthAdjust="spacingAndGlyphs">Second Difference In Energy (eV)</text>
</svg>
</body></html>
